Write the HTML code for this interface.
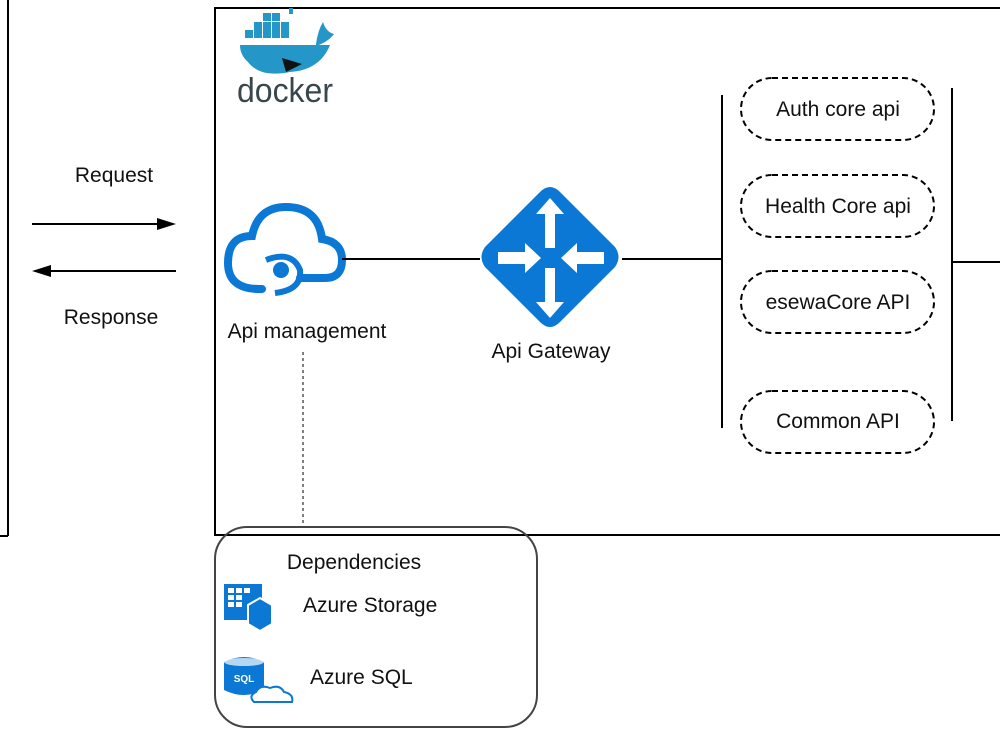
<!DOCTYPE html>
<html><head><meta charset="utf-8"><style>body{margin:0;background:#fff}svg{display:block}text{font-family:"Liberation Sans",sans-serif;fill:#111}</style></head><body>
<svg width="1000" height="750" viewBox="0 0 1000 750">
<rect width="1000" height="750" fill="#fff"/>
<line x1="8" y1="0" x2="8" y2="536" stroke="#000" stroke-width="2"/>
<line x1="0" y1="536" x2="8" y2="536" stroke="#000" stroke-width="2"/>
<rect x="215" y="8" width="800" height="527" fill="none" stroke="#000" stroke-width="2"/>
<!-- docker -->
<g fill="#2496c8">
<rect x="254" y="22" width="8" height="8"/><rect x="263" y="22" width="8" height="8"/><rect x="272" y="22" width="8" height="8"/>
<rect x="263" y="13" width="8" height="8"/><rect x="272" y="13" width="8" height="8"/><rect x="281" y="22" width="8" height="8"/>
<rect x="245" y="30" width="8" height="8"/><rect x="254" y="30" width="8" height="8"/><rect x="263" y="30" width="8" height="8"/><rect x="272" y="30" width="8" height="8"/><rect x="281" y="30" width="8" height="8"/>
<rect x="289" y="8" width="4" height="6"/>
<path d="M240 45 L330 45 Q320 70 290 72 Q260 78 248 62 Q240 55 240 45Z"/>
<path d="M316 44 Q318 30 323 22 Q326 32 334 34 Q328 42 316 46Z"/>
</g>
<path d="M282 58 L302 64 L286 72Z" fill="#111"/>
<text x="237" y="102" font-size="34" textLength="96" lengthAdjust="spacingAndGlyphs" style="fill:#38474c">docker</text>
<!-- request/response -->
<g font-size="21">
<text x="114" y="182" text-anchor="middle">Request</text>
<text x="111" y="324" text-anchor="middle">Response</text>
</g>
<line x1="32" y1="224" x2="165" y2="224" stroke="#000" stroke-width="2"/>
<path d="M176 224 L157 218 L157 230Z" fill="#000"/>
<line x1="44" y1="271" x2="176" y2="271" stroke="#000" stroke-width="2"/>
<path d="M32 271 L51 265 L51 277Z" fill="#000"/>
<!-- api management cloud -->
<path d="M262 289 Q228 290 228 263 Q228 236 252 236 Q258 207 286 207 Q318 207 322 239 Q342 242 342 260 Q342 278 325 278 L300 278" fill="none" stroke="#0a78d4" stroke-width="8" stroke-linecap="round"/>
<path d="M266 260 Q292 250 300 270 Q302 290 275 293" fill="none" stroke="#0a78d4" stroke-width="6"/>
<circle cx="281" cy="270" r="8" fill="#0a78d4"/>
<text x="307" y="338" font-size="21" text-anchor="middle">Api management</text>
<line x1="303" y1="352" x2="303" y2="527" stroke="#000" stroke-dasharray="3,3"/>
<line x1="342" y1="259" x2="480" y2="259" stroke="#000" stroke-width="2"/>
<!-- gateway -->
<path d="M550 187 Q555 187 560 192 L615 247 Q622 257 615 267 L560 322 Q550 332 540 322 L485 267 Q478 257 485 247 L540 192 Q545 187 550 187Z" fill="#0a78d4"/>
<g fill="#fff">
<path d="M550 198 L564 214 L555 214 L555 248 L545 248 L545 214 L536 214Z"/>
<path d="M550 318 L564 302 L555 302 L555 268 L545 268 L545 302 L536 302Z"/>
<path d="M498 252 L525 252 L525 243 L541 258 L525 273 L525 264 L498 264Z"/>
<path d="M604 252 L577 252 L577 243 L561 258 L577 273 L577 264 L604 264Z"/>
</g>
<text x="551" y="358" font-size="21" text-anchor="middle">Api Gateway</text>
<line x1="622" y1="259" x2="722" y2="259" stroke="#000" stroke-width="2"/>
<line x1="722" y1="95" x2="722" y2="428" stroke="#000" stroke-width="2"/>
<line x1="952" y1="88" x2="952" y2="421" stroke="#000" stroke-width="2"/>
<line x1="952" y1="262" x2="1000" y2="262" stroke="#000" stroke-width="2"/>
<g fill="none" stroke="#000" stroke-width="2" stroke-dasharray="6,4">
<rect x="741" y="78" width="193" height="62" rx="31"/>
<rect x="741" y="175" width="193" height="62" rx="31"/>
<rect x="741" y="271" width="193" height="62" rx="31"/>
<rect x="741" y="391" width="193" height="62" rx="31"/>
</g>
<g font-size="21" text-anchor="middle">
<text x="838" y="116">Auth core api</text>
<text x="838" y="213">Health Core api</text>
<text x="838" y="309">esewaCore API</text>
<text x="838" y="428">Common API</text>
</g>
<!-- dependencies -->
<rect x="215" y="527" width="322" height="200" rx="32" fill="none" stroke="#444" stroke-width="2"/>
<text x="354" y="569" font-size="21" text-anchor="middle">Dependencies</text>
<rect x="224" y="584" width="38" height="36" fill="#0a78d4"/>
<g fill="#fff"><rect x="228" y="588" width="6" height="5"/><rect x="236" y="588" width="6" height="5"/><rect x="244" y="588" width="6" height="5"/><rect x="228" y="595" width="6" height="5"/><rect x="236" y="595" width="6" height="5"/><rect x="228" y="602" width="6" height="5"/><rect x="236" y="602" width="6" height="5"/></g>
<path d="M260 598 L272 605 L272 624 L260 631 L248 624 L248 605Z" fill="#0a78d4" stroke="#fff" stroke-width="2"/>
<text x="303" y="612" font-size="21">Azure Storage</text>
<path d="M224 662 Q244 652 264 662 L264 690 Q244 700 224 690Z" fill="#0a78d4"/>
<ellipse cx="244" cy="662" rx="20" ry="4" fill="#fff" opacity="0.7"/>
<text x="244" y="682" font-size="10" font-weight="bold" text-anchor="middle" style="fill:#fff">SQL</text>
<path d="M254 702 Q248 696 256 692 Q260 684 270 688 Q280 684 284 692 Q294 694 292 702Z" fill="#fff" stroke="#0a78d4" stroke-width="2"/>
<text x="310" y="684" font-size="21">Azure SQL</text>
</svg>
</body></html>
